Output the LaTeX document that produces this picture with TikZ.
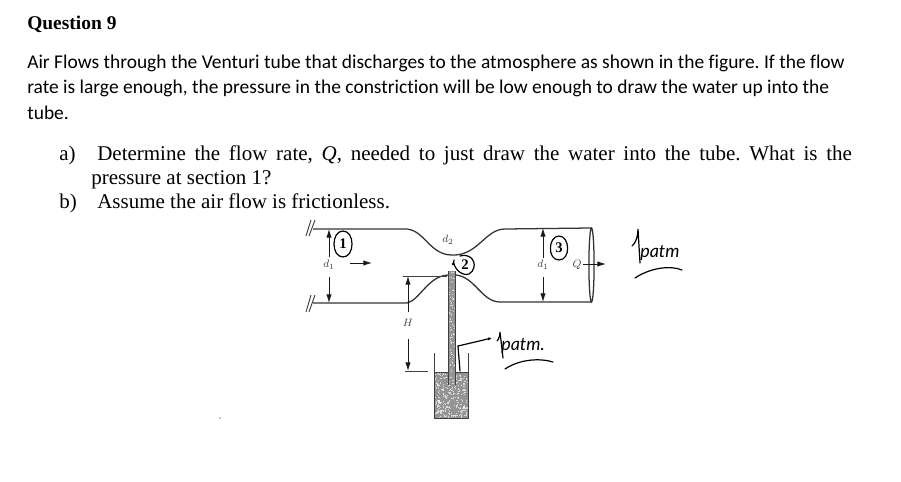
\documentclass[tikz,border=0pt]{standalone}
\usepackage{fontspec}
\setmainfont{Liberation Serif}
\newfontfamily\bodyfont[Ligatures=NoCommon]{Carlito}
\newfontfamily\handfont{Lato Italic}
\usetikzlibrary{arrows.meta}
\frenchspacing
\tikzset{
  wall/.style={line width=0.95pt,black!80},
  thin wall/.style={line width=0.7pt,black!75},
  dimarrow/.style={line width=0.65pt,black!90,-{Latex[length=6.5pt,width=4pt]}},
  hand/.style={line width=0.9pt,black,line cap=round},
  bodyline/.style={anchor=base west,inner sep=0pt,font=\bodyfont\fontsize{14.6}{17}\selectfont},
  serifline/.style={anchor=base west,inner sep=0pt,font=\fontsize{15.75}{18}\selectfont},
  small label/.style={inner sep=0pt,font=\itshape\fontsize{8.5}{9}\selectfont,black!75},
  hand label/.style={inner sep=0pt,font=\fontsize{11}{11}\selectfont\bfseries},
  patm label/.style={anchor=base west,inner sep=0pt,font=\handfont\fontsize{13.5}{15}\selectfont},
  speckle/.style={fill=black!42},
}
\begin{document}
\begin{tikzpicture}[x=0.75pt,y=-0.75pt]
\useasboundingbox (0,0) rectangle (901,482);
\fill[white] (0,0) rectangle (901,482);
% ---- text
\node[anchor=base west,inner sep=0pt,font=\bfseries\fontsize{14.6}{18}\selectfont] (title) at (27,29) {Question 9};
\node[bodyline] (l1) at (27,68) {Air Flows through the Venturi tube that discharges to the atmosphere as shown in the figure. If the flow};
\node[bodyline] (l2) at (27,93) {rate is large enough, the pressure in the constriction will be low enough to draw the water up into the};
\node[bodyline] (l3) at (27,119) {tube.};
\node[serifline] (a0) at (59,160) {a)};
\node[serifline] (a1) at (97,160) {\hbox to 566pt{Determine the flow rate, \textit{Q}, needed to just draw the water into the tube. What is the}};
\node[serifline] (a2) at (91,184) {pressure at section 1?};
\node[serifline] (b0) at (59,208) {b)};
\node[serifline] (b1) at (97,208) {Assume the air flow is frictionless.};
% ---- water and tube
\fill[speckle] (434,372) rectangle (468,418);
\pgfmathsetseed{7}
\foreach \i in {1,...,260} {
  \pgfmathsetmacro{\dx}{434+33*rnd}
  \pgfmathsetmacro{\dy}{372+45*rnd}
  \fill[white,opacity=0.65] (\dx,\dy) rectangle ++(1.2,1.2);
}
\draw[thin wall] (434,353) -- (434,418) -- (468,418) -- (468,353);
\draw[thin wall] (434,372) -- (468,372);
\fill[black!42] (449,271) rectangle (455,385);
\foreach \i in {1,...,90} {
  \pgfmathsetmacro{\dy}{271+113*rnd}
  \pgfmathsetmacro{\dx}{449+5*rnd}
  \fill[white,opacity=0.6] (\dx,\dy) rectangle ++(1.1,1.1);
}
\draw[thin wall] (448.5,271) -- (448.5,385) (455.5,271) -- (455.5,385);
% ---- venturi
\draw[wall] (313,229) -- (407,229) .. controls (425,231) and (430,255) .. (452,255)
  .. controls (478,256) and (485,229) .. (505,229) -- (591,228);
\draw[wall] (313,303) -- (407,303) .. controls (420,300) and (428,276) .. (448,275);
\draw[wall] (456,275) .. controls (475,277) and (482,302) .. (500,302) -- (591,302);
\draw[wall] (591.5,265) ellipse (2.6 and 37);
% break marks
\draw[thin wall] (306,236) -- (311,220) (309,236) -- (315,220);
\draw[thin wall] (306,312) -- (311,295) (309,312) -- (315,295);
% ---- dimension lines
\coordinate (d1top) at (329,229); \coordinate (d1bot) at (329,303);
\node[small label] (d1) at (329,265) {$d_1$};
\draw[dimarrow] (329,257) -- (d1top);
\draw[dimarrow] (329,277) -- (d1bot);
\coordinate (flowa) at (350,263); \coordinate (flowb) at (372,263);
\draw[dimarrow] (flowa) -- (flowb);
\node[small label] (d2) at (448,240) {$d_2$};
\coordinate (d3top) at (543,228); \coordinate (d3bot) at (543,302);
\node[small label] (d3) at (543,265) {$d_1$};
\draw[dimarrow] (543,258) -- (d3top);
\draw[dimarrow] (543,277) -- (d3bot);
\node[small label] (q) at (577,265) {$Q$};
\coordinate (qa) at (583,264); \coordinate (qb) at (606,264);
\draw[dimarrow] (qa) -- (qb);
\node[small label] (h) at (408,323) {$H$};
\coordinate (htop) at (408,276); \coordinate (hbot) at (408,371);
\draw[thin wall] (403,276) -- (447,276);
\draw[thin wall] (405,371) -- (428,371);
\draw[dimarrow] (408,312) -- (htop);
\draw[dimarrow] (408,339) -- (hbot);
% ---- section marks
\node[hand label] (s1) at (343,244) {1};
\draw[hand] (343,231) .. controls (355,231) and (355,257) .. (343,257) .. controls (331,257) and (331,231) .. (343,231);
\node[hand label] (s2) at (465,265) {2};
\draw[hand] (460,256) .. controls (474,252) and (479,268) .. (469,274) .. controls (461,277) and (452,266) .. (454,260) ;
\fill (453,264) circle (1.3);
\node[hand label] (s3) at (559,248) {3};
\draw[hand] (559,236) .. controls (570,236) and (571,260) .. (559,260) .. controls (547,260) and (548,236) .. (559,236);
% ---- patm
\node[patm label] (p1) at (501,350) {patm.};
\draw[hand] (497,341) .. controls (499,339) and (500,335) .. (500,332) -- (503,358);
\coordinate (pa) at (458,346); \coordinate (pb) at (460,371); \coordinate (pc) at (492,338);
\draw[hand] (pb) -- (pa);
\draw[hand,-{Latex[length=3pt,width=2.5pt]}] (pa) -- (pc);
\draw[hand] (505,369) .. controls (520,359) and (540,358) .. (553,362);
\node[patm label] (p2) at (640,257) {patm};
\draw[hand] (632,246) .. controls (636,243) and (638,236) .. (638,229) -- (640,263);
\draw[hand] (635,278) .. controls (650,268) and (670,265) .. (682,270);
\fill (220,418) circle (0.7);
\end{tikzpicture}
\end{document}
